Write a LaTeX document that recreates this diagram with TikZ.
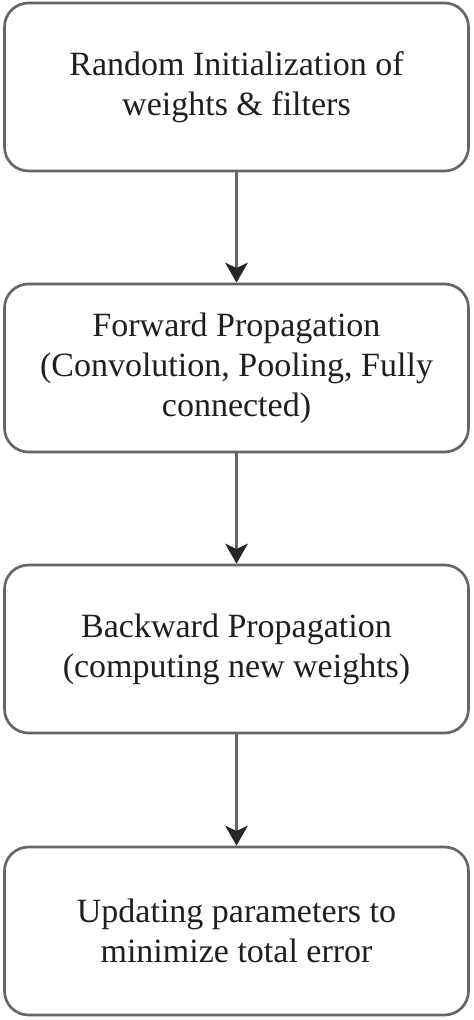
\documentclass[tikz,border=0pt]{standalone}
\usepackage{fontspec}
\setmainfont{Liberation Serif}
\usetikzlibrary{arrows.meta}

\begin{document}
\begin{tikzpicture}[x=0.75pt,y=-0.75pt,
    step_box/.style={draw=black!60,line width=2pt,rounded corners=18pt,fill=white,
        minimum width=348pt,minimum height=126pt,align=center,text=black!88,
        font=\fontsize{25.5}{30}\selectfont},
    flow_arrow/.style={draw=black!60,line width=1.6pt,-{Stealth[length=15pt,width=17pt,inset=4pt,color=black!85]}}]
    \useasboundingbox (0,0) rectangle (474,1020);
    \node[step_box] (init) at (236.5,87) {Random Initialization of\\weights \& filters};
    \node[step_box] (fwd) at (236.5,368) {Forward Propagation\\(Convolution, Pooling, Fully\\connected)};
    \node[step_box] (bwd) at (236.5,649) {Backward Propagation\\(computing new weights)};
    \node[step_box] (upd) at (236.5,931) {Updating parameters to\\minimize total error};
    \draw[flow_arrow] (init) -- (fwd);
    \draw[flow_arrow] (fwd) -- (bwd);
    \draw[flow_arrow] (bwd) -- (upd);
\end{tikzpicture}
\end{document}
